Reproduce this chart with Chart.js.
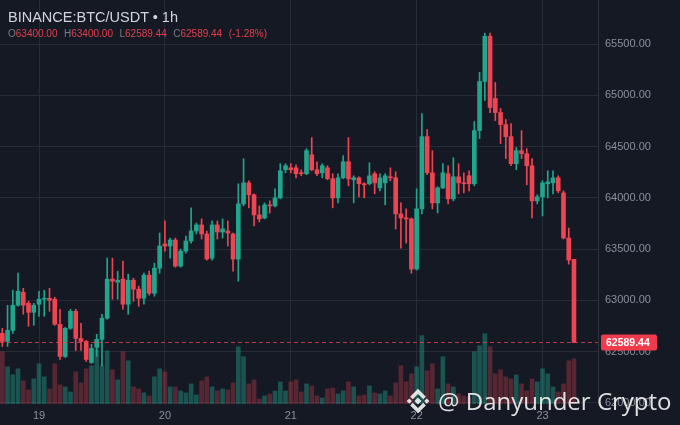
<!DOCTYPE html>
<html>
<head>
<meta charset="utf-8">
<script src="https://cdn.jsdelivr.net/npm/chart.js@4.4.1/dist/chart.umd.min.js"></script>
<style>
  html, body { margin: 0; padding: 0; background: #151924; }
  #wrap { position: relative; width: 680px; height: 425px; overflow: hidden; background: #151924; }
  canvas { display: block; }
  #hdr { position: absolute; left: 8px; top: 8px; font-family: "Liberation Sans", Arial, sans-serif; pointer-events: none; }
  #hdr .t { color: #d1d4dc; font-size: 14.5px; line-height: 18px; }
  #hdr .ohlc { font-size: 10px; line-height: 13px; margin-top: 1px; white-space: nowrap; }
  #hdr .ohlc .g { margin-right: 6.5px; }
  #hdr .k { color: #787b86; }
  #hdr .v { color: #e0414d; }
  #wm { position: absolute; left: 404px; top: 384px; display: flex; align-items: center; color: rgba(240,240,240,0.92);
        font-family: "Open Sans", sans-serif; font-size: 24px; white-space: nowrap; pointer-events: none; }
  #wm svg { margin-right: 6px; }
</style>
</head>
<body>
<div id="wrap">
  <canvas id="chart" width="680" height="425"></canvas>
  <div id="hdr">
    <div class="t">BINANCE:BTC/USDT • 1h</div>
    <div class="ohlc"><span class="g"><span class="k">O</span><span class="v">63400.00</span></span><span class="g"><span class="k">H</span><span class="v">63400.00</span></span><span class="g"><span class="k">L</span><span class="v">62589.44</span></span><span class="g"><span class="k">C</span><span class="v">62589.44</span></span><span class="v">(-1.28%)</span></div>
  </div>
  <div id="wm">
    <svg width="28" height="28" viewBox="0 0 32 32">
      <g fill="rgba(240,240,240,0.92)">
        <polygon points="16,2 25,11 22,14 16,8 10,14 7,11"/>
        <polygon points="16,12 20,16 16,20 12,16"/>
        <polygon points="6,13 9,16 6,19 3,16"/>
        <polygon points="26,13 29,16 26,19 23,16"/>
        <polygon points="16,30 25,21 22,18 16,24 10,18 7,21"/>
      </g>
    </svg>
    <span>@ Danyunder Crypto</span>
  </div>
</div>
<script>
// hourly candles, 18th 17:00 -> 23rd 06:00
const opens = [
  62677, 62599, 62707, 62952, 63079, 62971, 62883, 62962, 63011, 63020,
  63011, 62766, 62452, 62727, 62893, 62628, 62599, 62393, 62540, 62619,
  62825, 63207, 63177, 63207, 62962, 63197, 63109, 63020, 63246, 63069,
  63314, 63550, 63530, 63589, 63334, 63481, 63579, 63677, 63736, 63648,
  63412, 63736, 63667, 63677, 63648, 63403, 63942, 64147, 64030, 63834,
  63804, 63932, 63922, 64000, 64275, 64294, 64294, 64245, 64236, 64422,
  64275, 64245, 64294, 64187, 64000, 64196, 64353, 64177, 64196, 64138,
  64138, 64236, 64098, 64147, 64206, 64196, 63844, 63804, 63795, 63305,
  63893, 64598, 64245, 63951, 64098, 64236, 63991, 64206, 64147, 64216,
  64138, 64657, 65137, 65578, 64971, 64833, 64716, 64598, 64334, 64461,
  64432, 64314, 63971, 64010, 64138, 64147, 64196, 64049, 63608, 63400
];
const highs = [
  62727, 62952, 63099, 63265, 63118, 62991, 62971, 63089, 63099, 63118,
  63030, 62913, 62736, 62913, 62913, 62776, 62609, 62570, 62668, 62864,
  63413, 63413, 63285, 63383, 63256, 63216, 63138, 63265, 63285, 63363,
  63657, 63775, 63608, 63608, 63501, 63628, 63903, 63755, 63795, 63677,
  63775, 63775, 63795, 63775, 63657, 64138, 64383, 64167, 64040, 63922,
  63951, 63971, 64089, 64334, 64334, 64334, 64324, 64275, 64481, 64589,
  64353, 64334, 64314, 64236, 64236, 64412, 64589, 64216, 64206, 64147,
  64343, 64255, 64236, 64236, 64294, 64255, 63951, 63893, 63804, 64089,
  64824, 64667, 64461, 64108, 64334, 64314, 64392, 64334, 64245, 64265,
  64745, 65225, 65608, 65608, 65127, 64873, 64765, 64726, 64491, 64657,
  64481, 64383, 64030, 64167, 64265, 64265, 64216, 64069, 63706, 63400
];
const lows = [
  62550, 62550, 62677, 62942, 62864, 62746, 62756, 62844, 62844, 62893,
  62756, 62423, 62442, 62717, 62511, 62511, 62403, 62384, 62452, 62360,
  62815, 63011, 63011, 62913, 62864, 62991, 62942, 62962, 63050, 63040,
  63265, 63481, 63412, 63324, 63324, 63461, 63559, 63648, 63599, 63393,
  63393, 63599, 63608, 63530, 63285, 63187, 63922, 63903, 63726, 63765,
  63795, 63853, 63912, 63991, 64245, 64245, 64196, 64216, 64226, 64265,
  64216, 64196, 64177, 63903, 63951, 64187, 64118, 63951, 64010, 64000,
  64128, 64040, 64069, 63932, 64167, 63697, 63510, 63559, 63265, 63295,
  63844, 64226, 63893, 63853, 64089, 63942, 63971, 64040, 64049, 64069,
  64118, 64579, 64951, 64833, 64755, 64530, 64383, 64314, 64275, 64383,
  64128, 63804, 63942, 63824, 64000, 64040, 64049, 63599, 63353, 62589.44
];
const closes = [
  62599, 62707, 62952, 63089, 62952, 62883, 62952, 63011, 63020, 63001,
  62766, 62452, 62727, 62893, 62628, 62599, 62423, 62531, 62619, 62825,
  63207, 63187, 63197, 62962, 63197, 63109, 63020, 63246, 63069, 63314,
  63530, 63530, 63589, 63334, 63481, 63579, 63677, 63736, 63648, 63403,
  63736, 63667, 63697, 63657, 63403, 63942, 64147, 64030, 63834, 63795,
  63932, 63922, 64000, 64265, 64314, 64275, 64236, 64236, 64461, 64275,
  64236, 64314, 64187, 64000, 64196, 64353, 64187, 64196, 64138, 64128,
  64216, 64147, 64196, 64216, 64196, 63844, 63804, 63795, 63305, 63893,
  64598, 64245, 63951, 64098, 64245, 63991, 64206, 64147, 64138, 64138,
  64657, 65137, 65578, 64882, 64833, 64716, 64598, 64334, 64461, 64432,
  64314, 63971, 64010, 64147, 64157, 64196, 64069, 63608, 63393, 62589.44
];
const volumes = [
  1300, 925, 725, 875, 575, 350, 625, 1000, 675, 375,
  1000, 475, 425, 300, 800, 525, 875, 950, 1350, 950,
  1325, 850, 600, 1300, 1075, 425, 375, 275, 200, 675,
  875, 800, 425, 425, 325, 275, 500, 225, 575, 675,
  425, 325, 375, 350, 525, 1425, 1175, 500, 600, 125,
  200, 250, 325, 550, 325, 550, 600, 300, 500, 450,
  200, 150, 375, 400, 250, 325, 550, 425, 200, 225,
  450, 275, 250, 325, 200, 525, 950, 550, 750, 925,
  1700, 825, 1000, 375, 1175, 500, 425, 250, 200, 175,
  1300, 1450, 1750, 1425, 750, 850, 675, 625, 725, 500,
  325, 625, 550, 875, 750, 425, 300, 500, 1075, 1125
];
const dayTicks = [7, 31, 55, 79, 103];
const dayLabels = ['19', '20', '21', '22', '23'];
const priceTicks = [62000, 62500, 63000, 63500, 64000, 64500, 65000, 65500];
const lastPrice = 62589.44;

const upColor = '#22a58d';
const downColor = '#ef4452';
const upVol = 'rgba(34,165,141,0.42)';
const downVol = 'rgba(239,68,82,0.30)';
const gridColor = '#272b36';

const isUp = i => closes[i] >= opens[i];
const idx = opens.map((_, i) => i);

const noPad = scale => {
  scale.paddingTop = 0;
  scale.paddingBottom = 0;
  scale.paddingLeft = 0;
  scale.paddingRight = 0;
};

const lastPricePlugin = {
  id: 'lastPrice',
  afterDraw(chart) {
    const { ctx, chartArea, scales } = chart;
    const y = Math.round(scales.y.getPixelForValue(lastPrice)) + 0.5;
    ctx.save();
    ctx.strokeStyle = 'rgba(239,68,82,0.75)';
    ctx.lineWidth = 1;
    ctx.setLineDash([4, 3]);
    ctx.beginPath();
    ctx.moveTo(chartArea.left, y);
    ctx.lineTo(chartArea.right, y);
    ctx.stroke();
    ctx.setLineDash([]);
    const bx = chartArea.right + 3, bw = 56, bh = 16;
    ctx.fillStyle = '#ef3b4b';
    ctx.beginPath();
    ctx.roundRect(bx, y - bh / 2, bw, bh, 2);
    ctx.fill();
    ctx.fillStyle = '#ffffff';
    ctx.font = 'bold 10.5px "Liberation Sans", Arial, sans-serif';
    ctx.textBaseline = 'middle';
    ctx.fillText(lastPrice.toFixed(2), bx + 5, y + 0.5);
    ctx.restore();
  }
};

new Chart(document.getElementById('chart'), {
  type: 'bar',
  data: {
    datasets: [
      {
        label: 'Bodies',
        data: idx.map(i => ({ x: i, y: [opens[i], closes[i]] })),
        backgroundColor: idx.map(i => isUp(i) ? upColor : downColor),
        barThickness: 4,
        minBarLength: 1,
        grouped: false,
        yAxisID: 'y',
        order: 1
      },
      {
        label: 'Wicks',
        data: idx.map(i => ({ x: i, y: [lows[i], highs[i]] })),
        backgroundColor: idx.map(i => isUp(i) ? upColor : downColor),
        barThickness: 1,
        grouped: false,
        yAxisID: 'y',
        order: 2
      },
      {
        label: 'Volume',
        data: idx.map(i => ({ x: i, y: volumes[i] })),
        backgroundColor: idx.map(i => isUp(i) ? upVol : downVol),
        barThickness: 4,
        grouped: false,
        yAxisID: 'yVol',
        order: 3
      }
    ]
  },
  options: {
    responsive: false,
    animation: false,
    layout: { padding: { bottom: -2 } },
    plugins: { legend: { display: false }, tooltip: { enabled: false } },
    scales: {
      x: {
        type: 'linear',
        min: -0.44,
        max: 113.58,
        offset: false,
        afterBuildTicks: scale => { scale.ticks = dayTicks.map(v => ({ value: v })); },
        afterFit: scale => { scale.height = 23; noPad(scale); },
        grid: { color: gridColor, offset: false, drawTicks: false },
        border: { display: false },
        ticks: {
          color: '#8b8f9b',
          font: { family: '"Liberation Sans", Arial, sans-serif', size: 11 },
          padding: 5,
          maxRotation: 0,
          callback: v => dayLabels[dayTicks.indexOf(v)]
        }
      },
      y: {
        position: 'right',
        min: 61988,
        max: 65932,
        afterBuildTicks: scale => { scale.ticks = priceTicks.map(v => ({ value: v })); },
        afterFit: scale => { scale.width = 82; noPad(scale); },
        grid: { color: gridColor, drawTicks: false },
        border: { display: true, color: '#2c303b' },
        ticks: {
          color: '#8b8f9b',
          font: { family: '"Liberation Sans", Arial, sans-serif', size: 11 },
          padding: 7,
          callback: v => Number(v).toFixed(2)
        }
      },
      yVol: {
        display: false,
        min: 0,
        max: 10050,
        afterFit: noPad
      }
    }
  },
  plugins: [lastPricePlugin]
});
</script>
</body>
</html>
